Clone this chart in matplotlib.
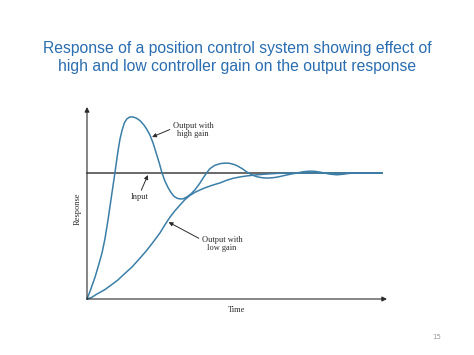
import matplotlib
matplotlib.use("Agg")
import matplotlib.pyplot as plt

# values (time in arbitrary units, response: input step = 1)
t_high = [0, 0.1, 0.27, 0.4, 0.5, 0.6, 0.7, 0.8, 0.93, 1.03, 1.1, 1.17, 1.25,
          1.33, 1.43, 1.53, 1.65, 1.77, 1.9, 2.0, 2.1, 2.2, 2.33, 2.42, 2.5,
          2.6, 2.7, 2.8, 2.9, 3.0, 3.1, 3.2, 3.33, 3.47, 3.6, 3.75, 3.87, 4.0,
          4.1, 4.25, 4.43, 4.6, 4.75, 4.9, 5.0, 5.17, 5.33, 5.5, 5.67, 5.85,
          6.0, 6.17, 6.33, 6.5, 6.67, 6.83, 7.0, 7.2, 7.43, 7.6, 7.77, 7.95,
          8.1, 8.33, 8.53, 8.7, 8.87, 9.83]
r_high = [0, 0.06, 0.175, 0.28, 0.365, 0.48, 0.627, 0.79, 1.0, 1.17, 1.27,
          1.34, 1.40, 1.43, 1.445, 1.445, 1.435, 1.415, 1.38, 1.345, 1.30,
          1.24, 1.14, 1.07, 1.0, 0.935, 0.885, 0.845, 0.815, 0.80, 0.794,
          0.795, 0.81, 0.835, 0.867, 0.915, 0.96, 1.005, 1.035, 1.06, 1.074,
          1.079, 1.077, 1.068, 1.058, 1.035, 1.008, 0.985, 0.97, 0.962, 0.96,
          0.962, 0.967, 0.976, 0.985, 0.993, 1.0, 1.01, 1.015, 1.013, 1.007,
          0.998, 0.991, 0.986, 0.99, 0.996, 1.0, 1.0]

t_low = [0, 0.15, 0.3, 0.6, 0.8, 1.03, 1.25, 1.5, 1.75, 1.97, 2.2, 2.43, 2.6,
         2.77, 2.93, 3.1, 3.27, 3.43, 3.6, 3.77, 3.93, 4.1, 4.27, 4.43, 4.65,
         4.87, 5.1, 5.33, 5.67, 6.0, 6.33, 6.67, 9.83]
r_low = [0, 0.012, 0.035, 0.075, 0.11, 0.151, 0.2, 0.254, 0.32, 0.38, 0.45,
         0.524, 0.59, 0.651, 0.70, 0.746, 0.79, 0.822, 0.847, 0.866, 0.882,
         0.897, 0.91, 0.921, 0.942, 0.958, 0.969, 0.977, 0.986, 0.992, 0.997,
         1.0, 1.0]

t_input = [0, 9.83]
r_input = [1.0, 1.0]

title = ("Response of a position control system showing effect of\n"
         "high and low controller gain on the output response")

curve_col = "#3b7ea8"
ink = "#2b2b2b"

fig = plt.figure(figsize=(4.74, 3.55), dpi=100)
ax = fig.add_axes([87 / 474, 56 / 355, 300 / 474, 192 / 355])
ax.set_xlim(0, 10)
ax.set_ylim(0, 1.524)
ax.axis("off")

ax.plot(t_input, r_input, color="#404040", lw=1.1, clip_on=False)
ax.plot(t_low, r_low, color=curve_col, lw=1.1, clip_on=False)
ax.plot(t_high, r_high, color=curve_col, lw=1.1, clip_on=False)

# axes with arrow heads
ax.annotate("", xy=(10, 0), xytext=(0, 0), annotation_clip=False,
            arrowprops=dict(arrowstyle="-|>", color=ink, lw=0.8,
                            mutation_scale=7, shrinkA=0, shrinkB=0))
ax.annotate("", xy=(0, 1.524), xytext=(0, 0), annotation_clip=False,
            arrowprops=dict(arrowstyle="-|>", color=ink, lw=0.8,
                            mutation_scale=7, shrinkA=0, shrinkB=0))

serif = "Liberation Serif"
arrow_kw = dict(arrowstyle="-|>", color=ink, lw=0.7, mutation_scale=6,
                shrinkA=0, shrinkB=0)

ax.annotate("Output with\nhigh gain", xy=(2.17, 1.286), xytext=(3.53, 1.341),
            ha="center", va="center", fontsize=6, family=serif, color=ink,
            linespacing=1.1, arrowprops=dict(arrow_kw, relpos=(0, 0.6)))
ax.annotate("Input", xy=(2.03, 0.984), xytext=(1.77, 0.81),
            ha="center", va="center", fontsize=6, family=serif, color=ink,
            arrowprops=dict(arrow_kw, relpos=(0.5, 1)))
ax.annotate("Output with\nlow gain", xy=(2.72, 0.61), xytext=(4.5, 0.437),
            ha="center", va="center", fontsize=6, family=serif, color=ink,
            linespacing=1.1, arrowprops=dict(arrow_kw, relpos=(0, 0.75)))

ax.text(-0.3, 0.714, "Response", rotation=90, ha="center", va="center",
        fontsize=6, family=serif, color=ink)
ax.text(5.0, -0.087, "Time", ha="center", va="center",
        fontsize=6, family=serif, color=ink)

fig.text(0.5, 1 - 57.5 / 355, title, ha="center", va="center",
         fontsize=11.3, family="Liberation Sans", color="#2a6db0",
         linespacing=1.2)
fig.text(437 / 474, 1 - 337 / 355, "15", ha="center", va="center",
         fontsize=5, color="#9a9a9a")

fig.savefig("out.png", dpi=100)
